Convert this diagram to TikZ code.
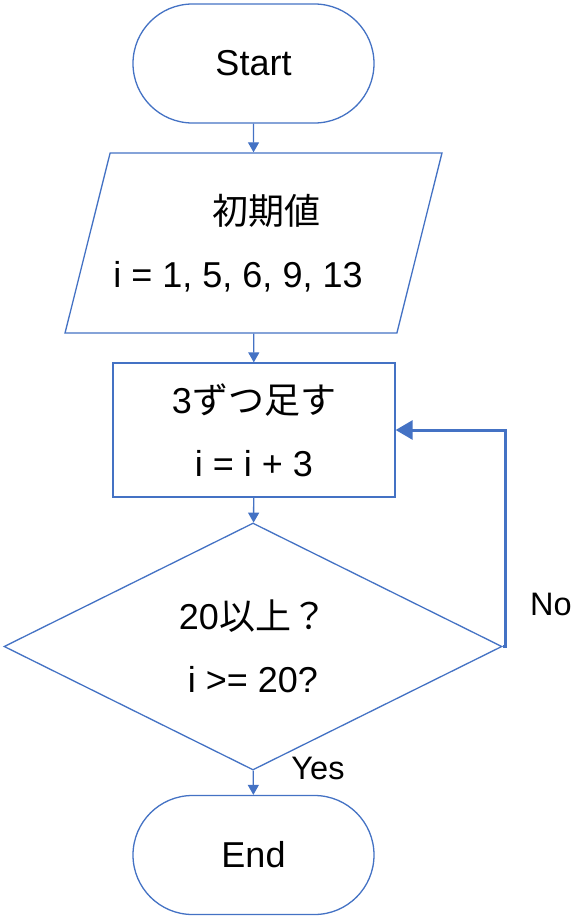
\documentclass[tikz,border=0pt]{standalone}
\usepackage{fontspec}
\setmainfont{Liberation Sans}
\newfontfamily\jp{Noto Sans CJK JP}
\usetikzlibrary{shapes.geometric,arrows.meta}
\definecolor{lineblue}{RGB}{68,114,196}
\tikzset{
  shapebase/.style={draw=lineblue, line width=1.3pt, inner sep=0pt, fill=white, align=center,
    font=\fontsize{36}{63}\selectfont},
  terminal/.style={shapebase, rectangle, rounded corners=59.5pt, minimum width=241pt, minimum height=119pt},
  iobox/.style={shapebase, trapezium, trapezium stretches=true, trapezium left angle=65.77,
    trapezium right angle=114.23, minimum width=379pt, minimum height=180pt},
  procbox/.style={shapebase, rectangle, minimum width=282pt, minimum height=134pt},
  decision/.style={shapebase, diamond, minimum width=498pt, minimum height=247pt},
  flow/.style={draw=lineblue, line width=1.3pt, -{Triangle[width=11pt,length=10pt]}},
  loopflow/.style={draw=lineblue, line width=3pt, -{Triangle[width=19pt,length=17pt]}},
  lbl/.style={font=\fontsize{32.5}{38}\selectfont, inner sep=0pt}
}
\begin{document}
\begin{tikzpicture}[x=1pt,y=-1pt]
\useasboundingbox (0,0) rectangle (584,918);
\node[terminal] (start) at (253.5,63.5) {Start};
\node[iobox] (init) at (253.5,243) {\hspace*{26pt}{\jp 初期値}\\i = 1, 5, 6, 9, 13\hspace*{31pt}};
\node[procbox] (add) at (254,430) {3{\jp ずつ足す}\\i = i + 3};
\node[decision] (cond) at (253,646.5) {20{\jp 以上？}\\i >= 20?};
\node[terminal] (end) at (253.5,855) {End};
\coordinate (corner1) at (505.5,646.5);
\coordinate (corner2) at (505.5,430);
\draw[flow] (start) -- (init);
\draw[flow] (init) -- (add);
\draw[flow] (add) -- (cond);
\draw[flow] (cond) -- (end);
\draw[loopflow] (cond.east) -- (corner1) -- (corner2) -- (add.east);
\node[lbl] (yes) at (318,768) {Yes};
\node[lbl] (no) at (551,604) {No};
\end{tikzpicture}
\end{document}
